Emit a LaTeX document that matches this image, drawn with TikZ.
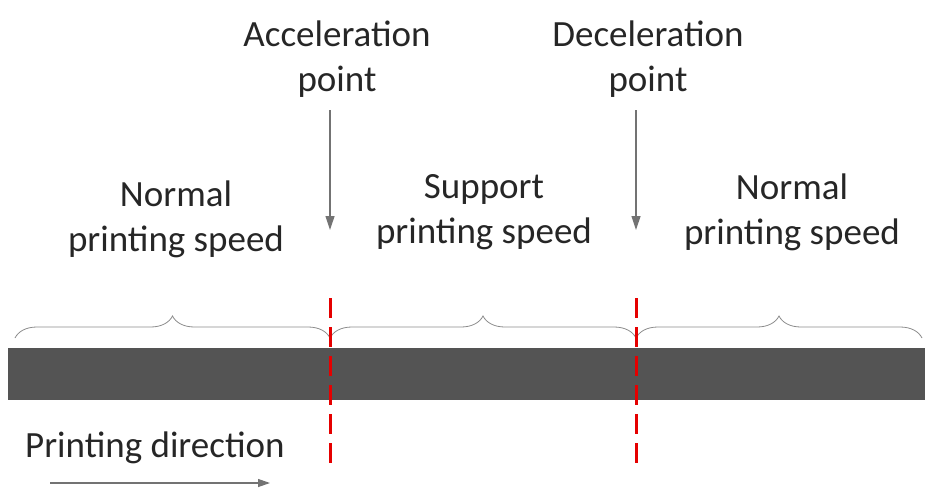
\documentclass[tikz,border=0pt]{standalone}
\usepackage{fontspec}
\setmainfont{Carlito}
\usetikzlibrary{decorations.pathreplacing,arrows.meta}
\begin{document}
\begin{tikzpicture}[x=1pt,y=-1pt,
  lab/.style={align=center,font=\fontsize{37}{45}\selectfont,text=black!85,inner sep=0pt},
  br/.style={draw=black!45,line width=0.8pt,decorate,decoration={brace,amplitude=22pt,aspect=0.5}},
  garr/.style={draw=black!55,line width=1.2pt,-{Triangle[length=14pt,width=9pt]}},
  red/.style={draw=red!90!black,line width=3pt,dash pattern=on 20pt off 9pt}]
\useasboundingbox (0,0) rectangle (929,488);
\fill[black!67] (8,348) rectangle (925,400);
\node[lab] (acc) at (337,59) {Acceleration\\point};
\node[lab] (dec) at (648,59) {Deceleration\\point};
\node[lab] (n1) at (176,219) {Normal\\printing speed};
\node[lab] (sp) at (484,212) {Support\\printing speed};
\node[lab] (n2) at (792,212) {Normal\\printing speed};
\coordinate (a1) at (330,110); \coordinate (a2) at (330,230);
\coordinate (d1) at (636,110); \coordinate (d2) at (636,230);
\draw[garr] (a1) -- (a2);
\draw[garr] (d1) -- (d2);
\coordinate (b0) at (15,338); \coordinate (b1) at (330,338);
\coordinate (b2) at (636,338); \coordinate (b3) at (922,338);
\draw[br] (b0) -- (b1);
\draw[br] (b1) -- (b2);
\draw[br] (b2) -- (b3);
\coordinate (r1) at (330,298); \coordinate (r2) at (330,470);
\coordinate (s1) at (636,298); \coordinate (s2) at (636,463);
\draw[red] (r1) -- (r2);
\draw[red] (s1) -- (s2);
\node[lab,anchor=west] (pd) at (25,448) {Printing direction};
\coordinate (p1) at (50,483); \coordinate (p2) at (270,483);
\draw[draw=black!55,line width=1.2pt,-{Triangle[length=12pt,width=8pt]}] (p1) -- (p2);
\end{tikzpicture}
\end{document}
